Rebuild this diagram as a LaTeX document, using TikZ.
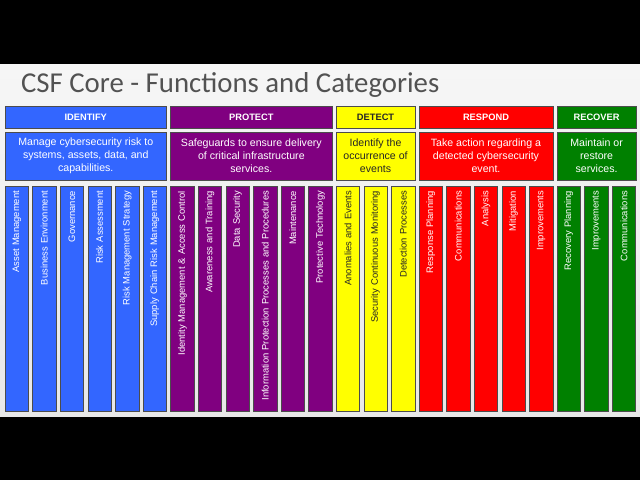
\documentclass[tikz,border=0pt]{standalone}
\usepackage{fontspec}
\setmainfont{Liberation Sans}
\newfontfamily\titlefont{Carlito}
\usetikzlibrary{positioning}
\definecolor{idblue}{HTML}{3366FF}
\definecolor{prpurple}{HTML}{800080}
\definecolor{deyellow}{HTML}{FFFF00}
\definecolor{rsred}{HTML}{FF0000}
\definecolor{rcgreen}{HTML}{008000}

\begin{document}
\begin{tikzpicture}[x={(1pt,0pt)},y={(0pt,-1pt)},every node/.style={inner sep=0pt, outer sep=0pt},
  box/.style={draw=gray!60!black, line width=0.5pt},
  fn/.style={box, minimum height=22pt, font=\bfseries\fontsize{9.3}{11}\selectfont},
  desc/.style={box, minimum height=48pt, align=center, font=\fontsize{10.6}{13.2}\selectfont},
  cat/.style={box, rotate=90, minimum height=23.5pt, text width=215pt, inner xsep=5pt, align=right, font=\fontsize{9.4}{11}\selectfont}]
% slide background
\fill[black] (0,0) rectangle (640,480);
\shade[top color=gray!7, bottom color=gray!18] (0,64) rectangle (640,416);
\node[anchor=base west, font=\titlefont\fontsize{28.8}{32}\selectfont, text=black!68] (title) at (21,92) {CSF Core - Functions and Categories};
% functions
\node[fn, fill=idblue, text=white, minimum width=161.5pt] (identify) at (85.75,117) {IDENTIFY};
\node[fn, fill=prpurple, text=white, minimum width=161.5pt] (protect) at (251.35,117) {PROTECT};
\node[fn, fill=deyellow, text=black!85, minimum width=78.7pt] (detect) at (375.55,117) {DETECT};
\node[fn, fill=rsred, text=white, minimum width=134pt] (respond) at (486,117) {RESPOND};
\node[fn, fill=rcgreen, text=white, minimum width=79.2pt] (recover) at (596.6,117) {RECOVER};
% descriptions
\node[desc, fill=idblue, text=white, minimum width=161.5pt] (identify-desc) at (85.75,156) {Manage cybersecurity risk to\\systems, assets, data, and\\capabilities.};
\node[desc, fill=prpurple, text=white, minimum width=161.5pt] (protect-desc) at (251.35,156) {Safeguards to ensure delivery\\of critical infrastructure\\services.};
\node[desc, fill=deyellow, text=black!85, minimum width=78.7pt] (detect-desc) at (375.55,156) {Identify the\\occurrence of\\events};
\node[desc, fill=rsred, text=white, minimum width=134pt] (respond-desc) at (486,156) {Take action regarding a\\detected cybersecurity\\event.};
\node[desc, fill=rcgreen, text=white, minimum width=79.2pt] (recover-desc) at (596.6,156) {Maintain or\\restore\\services.};
% categories
\node[cat, fill=idblue, text=white] (id-am) at (16.75,298.5) {Asset Management};
\node[cat, fill=idblue, text=white] (id-be) at (44.35,298.5) {Business Environment};
\node[cat, fill=idblue, text=white] (id-gv) at (71.95,298.5) {Governance};
\node[cat, fill=idblue, text=white] (id-ra) at (99.55,298.5) {Risk Assessment};
\node[cat, fill=idblue, text=white] (id-rm) at (127.15,298.5) {Risk Management Strategy};
\node[cat, fill=idblue, text=white] (id-sc) at (154.75,298.5) {Supply Chain Risk Management};
\node[cat, fill=prpurple, text=white] (pr-ac) at (182.35,298.5) {Identity Management \& Access Control};
\node[cat, fill=prpurple, text=white] (pr-at) at (209.95,298.5) {Awareness and Training};
\node[cat, fill=prpurple, text=white] (pr-ds) at (237.55,298.5) {Data Security};
\node[cat, fill=prpurple, text=white] (pr-ip) at (265.15,298.5) {Information Protection Processes and Procedures};
\node[cat, fill=prpurple, text=white] (pr-ma) at (292.75,298.5) {Maintenance};
\node[cat, fill=prpurple, text=white] (pr-pt) at (320.35,298.5) {Protective Technology};
\node[cat, fill=deyellow, text=black!85] (de-ae) at (347.95,298.5) {Anomalies and Events};
\node[cat, fill=deyellow, text=black!85] (de-cm) at (375.55,298.5) {Security Continuous Monitoring};
\node[cat, fill=deyellow, text=black!85] (de-dp) at (403.15,298.5) {Detection Processes};
\node[cat, fill=rsred, text=white] (rs-rp) at (430.75,298.5) {Response Planning};
\node[cat, fill=rsred, text=white] (rs-co) at (458.35,298.5) {Communications};
\node[cat, fill=rsred, text=white] (rs-an) at (485.95,298.5) {Analysis};
\node[cat, fill=rsred, text=white] (rs-mi) at (513.55,298.5) {Mitigation};
\node[cat, fill=rsred, text=white] (rs-im) at (541.15,298.5) {Improvements};
\node[cat, fill=rcgreen, text=white] (rc-rp) at (568.75,298.5) {Recovery Planning};
\node[cat, fill=rcgreen, text=white] (rc-im) at (596.35,298.5) {Improvements};
\node[cat, fill=rcgreen, text=white] (rc-co) at (623.95,298.5) {Communications};
\useasboundingbox (0,0) rectangle (640,480);
\end{tikzpicture}
\end{document}
